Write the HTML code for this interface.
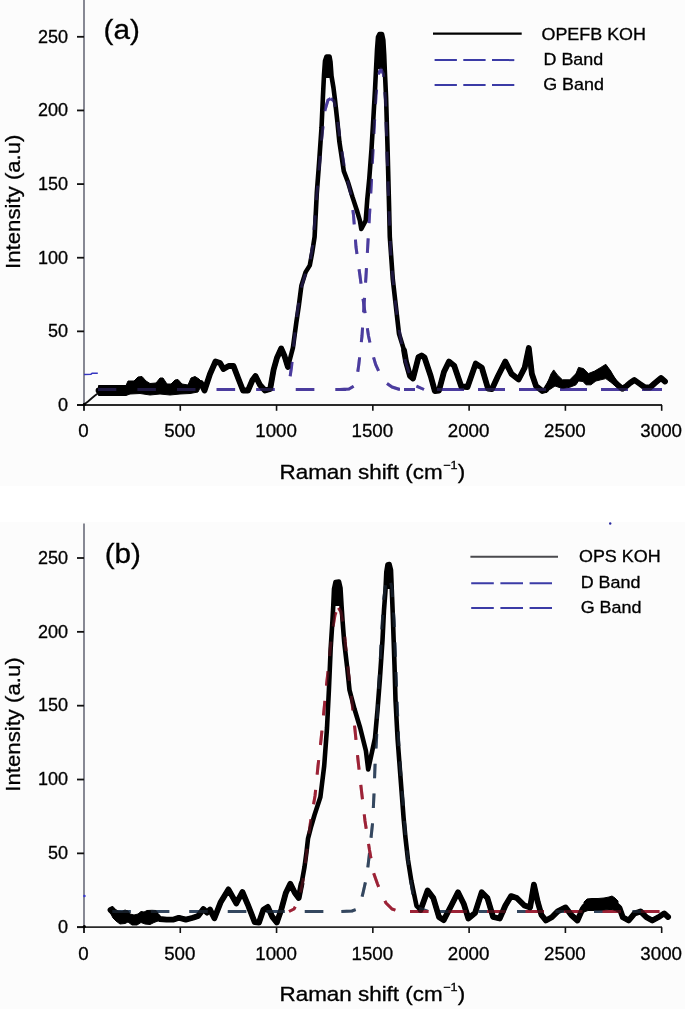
<!DOCTYPE html>
<html><head><meta charset="utf-8"><title>Raman spectra</title>
<style>
html,body{margin:0;padding:0;background:#fff;overflow:hidden;}
svg{display:block;}
text{font-family:'Liberation Sans', Arial, Helvetica, sans-serif;fill:#000;stroke:#000;stroke-width:0.3px;}
</style></head>
<body>
<svg width="685" height="1009" viewBox="0 0 685 1009">
<rect x="0" y="0" width="685" height="486" fill="#fcfcfc"/>
<rect x="0" y="522" width="685" height="487" fill="#fcfcfc"/>
<line x1="84" y1="0.0" x2="84" y2="410.8" stroke="#7a7c88" stroke-width="1.8"/>
<line x1="77" y1="405.0" x2="662" y2="405.0" stroke="#2a2a2a" stroke-width="1.8"/>
<line x1="77" y1="405.00" x2="84" y2="405.00" stroke="#111" stroke-width="1.8"/>
<line x1="77" y1="331.36" x2="84" y2="331.36" stroke="#111" stroke-width="1.8"/>
<line x1="77" y1="257.72" x2="84" y2="257.72" stroke="#111" stroke-width="1.8"/>
<line x1="77" y1="184.08" x2="84" y2="184.08" stroke="#111" stroke-width="1.8"/>
<line x1="77" y1="110.44" x2="84" y2="110.44" stroke="#111" stroke-width="1.8"/>
<line x1="77" y1="36.80" x2="84" y2="36.80" stroke="#111" stroke-width="1.8"/>
<line x1="84.00" y1="405.0" x2="84.00" y2="410.8" stroke="#111" stroke-width="1.6"/>
<line x1="180.28" y1="405.0" x2="180.28" y2="410.8" stroke="#111" stroke-width="1.6"/>
<line x1="276.56" y1="405.0" x2="276.56" y2="410.8" stroke="#111" stroke-width="1.6"/>
<line x1="372.84" y1="405.0" x2="372.84" y2="410.8" stroke="#111" stroke-width="1.6"/>
<line x1="469.12" y1="405.0" x2="469.12" y2="410.8" stroke="#111" stroke-width="1.6"/>
<line x1="565.40" y1="405.0" x2="565.40" y2="410.8" stroke="#111" stroke-width="1.6"/>
<line x1="661.68" y1="405.0" x2="661.68" y2="410.8" stroke="#111" stroke-width="1.6"/>
<line x1="84" y1="523.6" x2="84" y2="933.0" stroke="#7a7c88" stroke-width="1.8"/>
<line x1="77" y1="927.2" x2="662" y2="927.2" stroke="#2a2a2a" stroke-width="1.8"/>
<line x1="77" y1="927.20" x2="84" y2="927.20" stroke="#111" stroke-width="1.8"/>
<line x1="77" y1="853.36" x2="84" y2="853.36" stroke="#111" stroke-width="1.8"/>
<line x1="77" y1="779.52" x2="84" y2="779.52" stroke="#111" stroke-width="1.8"/>
<line x1="77" y1="705.68" x2="84" y2="705.68" stroke="#111" stroke-width="1.8"/>
<line x1="77" y1="631.84" x2="84" y2="631.84" stroke="#111" stroke-width="1.8"/>
<line x1="77" y1="558.00" x2="84" y2="558.00" stroke="#111" stroke-width="1.8"/>
<line x1="84.00" y1="927.2" x2="84.00" y2="933.0" stroke="#111" stroke-width="1.6"/>
<line x1="180.28" y1="927.2" x2="180.28" y2="933.0" stroke="#111" stroke-width="1.6"/>
<line x1="276.56" y1="927.2" x2="276.56" y2="933.0" stroke="#111" stroke-width="1.6"/>
<line x1="372.84" y1="927.2" x2="372.84" y2="933.0" stroke="#111" stroke-width="1.6"/>
<line x1="469.12" y1="927.2" x2="469.12" y2="933.0" stroke="#111" stroke-width="1.6"/>
<line x1="565.40" y1="927.2" x2="565.40" y2="933.0" stroke="#111" stroke-width="1.6"/>
<line x1="661.68" y1="927.2" x2="661.68" y2="933.0" stroke="#111" stroke-width="1.6"/>
<text transform="matrix(1.0000,0,0,1,68.00,410.80)" font-size="18.00" text-anchor="end">0</text>
<text transform="matrix(1.0000,0,0,1,68.00,337.16)" font-size="18.00" text-anchor="end">50</text>
<text transform="matrix(1.0000,0,0,1,68.00,263.52)" font-size="18.00" text-anchor="end">100</text>
<text transform="matrix(1.0000,0,0,1,68.00,189.88)" font-size="18.00" text-anchor="end">150</text>
<text transform="matrix(1.0000,0,0,1,68.00,116.24)" font-size="18.00" text-anchor="end">200</text>
<text transform="matrix(1.0000,0,0,1,68.00,42.60)" font-size="18.00" text-anchor="end">250</text>
<text transform="matrix(1.0400,0,0,1,83.50,436.50)" font-size="18.00" text-anchor="middle">0</text>
<text transform="matrix(1.0400,0,0,1,179.78,436.50)" font-size="18.00" text-anchor="middle">500</text>
<text transform="matrix(1.0400,0,0,1,276.06,436.50)" font-size="18.00" text-anchor="middle">1000</text>
<text transform="matrix(1.0400,0,0,1,372.34,436.50)" font-size="18.00" text-anchor="middle">1500</text>
<text transform="matrix(1.0400,0,0,1,468.62,436.50)" font-size="18.00" text-anchor="middle">2000</text>
<text transform="matrix(1.0400,0,0,1,564.90,436.50)" font-size="18.00" text-anchor="middle">2500</text>
<text transform="matrix(1.0400,0,0,1,661.18,436.50)" font-size="18.00" text-anchor="middle">3000</text>
<text transform="matrix(1.1500,0,0,1,279.50,479.00)" font-size="19.50">Raman shift (cm<tspan font-size="11" dx="0.5" dy="-10">&#8722;1</tspan><tspan dy="10">)</tspan></text>
<text transform="matrix(0,-1.1100,1,0,20.20,201.70)" font-size="20.00" text-anchor="middle">Intensity (a.u)</text>
<text transform="matrix(1.0000,0,0,1,68.00,933.00)" font-size="18.00" text-anchor="end">0</text>
<text transform="matrix(1.0000,0,0,1,68.00,859.16)" font-size="18.00" text-anchor="end">50</text>
<text transform="matrix(1.0000,0,0,1,68.00,785.32)" font-size="18.00" text-anchor="end">100</text>
<text transform="matrix(1.0000,0,0,1,68.00,711.48)" font-size="18.00" text-anchor="end">150</text>
<text transform="matrix(1.0000,0,0,1,68.00,637.64)" font-size="18.00" text-anchor="end">200</text>
<text transform="matrix(1.0000,0,0,1,68.00,563.80)" font-size="18.00" text-anchor="end">250</text>
<text transform="matrix(1.0400,0,0,1,83.50,959.50)" font-size="18.00" text-anchor="middle">0</text>
<text transform="matrix(1.0400,0,0,1,179.78,959.50)" font-size="18.00" text-anchor="middle">500</text>
<text transform="matrix(1.0400,0,0,1,276.06,959.50)" font-size="18.00" text-anchor="middle">1000</text>
<text transform="matrix(1.0400,0,0,1,372.34,959.50)" font-size="18.00" text-anchor="middle">1500</text>
<text transform="matrix(1.0400,0,0,1,468.62,959.50)" font-size="18.00" text-anchor="middle">2000</text>
<text transform="matrix(1.0400,0,0,1,564.90,959.50)" font-size="18.00" text-anchor="middle">2500</text>
<text transform="matrix(1.0400,0,0,1,661.18,959.50)" font-size="18.00" text-anchor="middle">3000</text>
<text transform="matrix(1.1500,0,0,1,279.50,1001.20)" font-size="19.50">Raman shift (cm<tspan font-size="11" dx="0.5" dy="-10">&#8722;1</tspan><tspan dy="10">)</tspan></text>
<text transform="matrix(0,-1.1100,1,0,20.20,724.50)" font-size="20.00" text-anchor="middle">Intensity (a.u)</text>
<line x1="433" y1="33.6" x2="521.7" y2="33.6" stroke="#000" stroke-width="2.2"/>
<line x1="434.6" y1="60.1" x2="515" y2="60.1" stroke="#3b3ba6" stroke-width="2" stroke-dasharray="22.3 6.4"/>
<line x1="434.6" y1="85.0" x2="515" y2="85.0" stroke="#3b3ba6" stroke-width="2" stroke-dasharray="22.3 6.4"/>
<text transform="matrix(1.1200,0,0,1,541.50,39.60)" font-size="16.00">OPEFB KOH</text>
<text transform="matrix(1.1200,0,0,1,543.50,65.00)" font-size="16.00">D Band</text>
<text transform="matrix(1.1200,0,0,1,543.20,90.40)" font-size="16.00">G Band</text>
<text transform="matrix(1.0500,0,0,1,103.50,38.50)" font-size="28.30">(a)</text>
<line x1="470.4" y1="556.7" x2="558" y2="556.7" stroke="#4a4a4e" stroke-width="2"/>
<line x1="471.2" y1="583.2" x2="552" y2="583.2" stroke="#3b3ba6" stroke-width="2" stroke-dasharray="22.6 6.6"/>
<line x1="471.2" y1="608.1" x2="552" y2="608.1" stroke="#3b3ba6" stroke-width="2" stroke-dasharray="22.6 6.6"/>
<text transform="matrix(1.1200,0,0,1,579.00,562.40)" font-size="16.00">OPS KOH</text>
<text transform="matrix(1.1200,0,0,1,580.70,587.50)" font-size="16.00">D Band</text>
<text transform="matrix(1.1200,0,0,1,580.70,612.70)" font-size="16.00">G Band</text>
<text transform="matrix(1.0500,0,0,1,104.70,563.00)" font-size="28.30">(b)</text>
<line x1="98.0" y1="389.5" x2="346.0" y2="389.5" stroke="#4b3c9e" stroke-width="3.0" stroke-dasharray="18.5 21.1" stroke-dashoffset="0.20"/>
<polyline points="284.0,389.5 287.0,387.5 289.5,381.0 291.5,367.0 294.0,342.0 297.5,311.0 301.0,288.0 305.5,274.0 310.0,262.0 313.0,244.0 316.0,205.0 319.0,170.0 322.0,135.0 325.0,110.0 328.0,100.0 331.0,98.5" fill="none" stroke="#4b3c9e" stroke-width="3.0" stroke-dasharray="14.5 15.3" stroke-dashoffset="14.5" stroke-linejoin="round"/>
<polyline points="331.0,98.5 334.0,101.0 337.0,115.0 340.0,140.0 344.0,165.0 348.0,182.0 351.0,195.0 353.5,215.0 356.0,247.0 360.0,276.0 364.0,306.0 368.5,336.0 372.0,352.0 375.7,364.6 380.0,374.0 385.0,382.0 392.0,387.0 399.0,389.3 405.0,389.5" fill="none" stroke="#4b3c9e" stroke-width="3.0" stroke-dasharray="14.5 15.3" stroke-dashoffset="4.6" stroke-linejoin="round"/>
<polyline points="340.0,389.5 349.0,389.0 354.0,386.0 357.0,377.0 358.8,364.6 362.0,336.0 364.0,306.0 366.0,276.0 367.7,247.0 369.5,215.0 371.5,180.0 373.5,140.0 376.0,95.0 378.5,74.0 381.0,69.0 383.5,74.0 385.5,100.0 387.0,150.0 389.0,210.0 391.0,260.0 395.0,300.0 400.0,335.0 405.0,360.0 410.0,376.0 416.0,386.0 424.0,389.5" fill="none" stroke="#4b3c9e" stroke-width="3.0" stroke-dasharray="14.5 15.3" stroke-dashoffset="0.1" stroke-linejoin="round"/>
<line x1="404.0" y1="389.5" x2="662.0" y2="389.5" stroke="#4b3c9e" stroke-width="3.0" stroke-dasharray="19.0 22.0" stroke-dashoffset="8.00"/>
<line x1="424.0" y1="389.5" x2="662.0" y2="389.5" stroke="#4b3c9e" stroke-width="3.0" stroke-dasharray="19.0 22.0" stroke-dashoffset="20.00"/>
<line x1="111.0" y1="911.5" x2="341.4" y2="911.5" stroke="#34475f" stroke-width="3.0" stroke-dasharray="18.5 20.0" stroke-dashoffset="37.20"/>
<polyline points="341.4,911.5 352.0,911.0 357.5,909.0 360.5,903.0 363.0,893.0 365.5,882.0 367.5,870.0 369.3,855.0 371.0,838.0 372.6,822.8 374.0,794.0 375.0,766.0 376.5,740.0 378.0,700.0 380.0,665.0 381.8,630.0 383.7,600.0 386.0,582.0 389.0,577.0 392.0,588.0 394.0,620.0 395.5,660.0 397.0,700.0 399.0,750.0 402.0,790.0 405.5,835.0 409.0,870.0 413.0,895.0 419.0,908.0 428.0,911.5" fill="none" stroke="#34475f" stroke-width="3.0" stroke-dasharray="14.5 15.3" stroke-dashoffset="0.0" stroke-linejoin="round"/>
<line x1="428.0" y1="911.5" x2="668.0" y2="911.5" stroke="#34475f" stroke-width="3.0" stroke-dasharray="18.5 20.0" stroke-dashoffset="26.50"/>
<polyline points="289.0,911.5 294.0,909.0 297.5,903.0 300.5,893.0 303.0,880.0 305.5,862.0 308.0,842.0 310.5,822.0 315.0,796.0 318.0,766.0 321.0,740.0 323.8,712.0 326.5,685.0 329.3,660.0 331.5,636.0 335.0,615.0 338.0,607.0" fill="none" stroke="#9c2236" stroke-width="3.0" stroke-dasharray="14.5 15.3" stroke-dashoffset="6.4" stroke-linejoin="round"/>
<polyline points="338.0,607.0 341.0,612.0 344.0,630.0 347.0,660.0 349.5,682.0 351.7,699.5 355.0,730.0 358.0,760.0 361.5,791.0 365.0,821.0 369.5,850.0 373.6,873.0 377.5,884.0 382.0,895.0 386.0,903.0 392.0,909.0 400.0,911.5" fill="none" stroke="#9c2236" stroke-width="3.0" stroke-dasharray="14.5 15.3" stroke-dashoffset="28.8" stroke-linejoin="round"/>
<line x1="400.0" y1="911.5" x2="668.0" y2="911.5" stroke="#9c2236" stroke-width="3.0" stroke-dasharray="18.5 20.0" stroke-dashoffset="28.50"/>
<polyline points="84,374.6 91,374.2 92.2,373.2 97.8,373.2" fill="none" stroke="#3636c0" stroke-width="1.5"/>
<polyline points="84,404.5 88,401.5 92,398 95,395.5 98.5,393" fill="none" stroke="#111" stroke-width="1.8"/>
<polyline points="98.5,390.5 126.0,390.5 128.0,387.9 130.0,387.5 134.0,387.4 138.0,385.3 140.0,385.1 142.0,385.1 146.0,387.7 150.0,389.2 156.0,388.7 160.0,386.0 163.0,386.1 167.0,389.4 170.0,389.5 171.0,389.4 175.0,387.2 178.0,386.9 180.0,387.9 182.0,388.9 188.0,389.3 190.0,386.9 191.0,385.7 195.0,384.5 198.0,385.2 199.0,384.5 201.0,383.5 201.0,383.0 204.5,390.5 210.0,374.0 215.5,361.5 220.0,363.0 223.5,369.0 228.7,366.0 233.5,366.0 238.3,378.5 243.0,390.5 248.0,390.5 252.5,380.0 255.5,376.0 260.0,385.0 265.0,390.5 270.2,389.0 273.6,369.8 276.9,358.0 281.2,348.5 284.5,356.0 287.9,367.0 292.9,347.9 296.3,322.6 298.8,305.8 301.4,285.6 305.6,272.1 309.8,265.4 312.3,251.9 314.6,236.8 316.8,193.0 319.0,163.8 321.5,128.0 323.0,95.0 324.0,75.0 325.0,61.0 326.5,56.5 329.5,56.5 330.5,62.0 331.5,76.0 333.5,88.0 335.0,100.0 337.2,120.0 339.4,141.9 343.8,171.1 348.2,182.8 352.6,197.4 356.9,210.5 359.9,220.7 361.3,229.0 365.7,220.7 367.2,200.3 369.3,178.4 371.5,149.2 373.7,112.6 375.0,90.0 376.0,70.0 377.0,50.0 378.0,37.0 379.5,34.0 382.0,34.0 383.3,40.0 384.2,55.0 384.8,70.0 386.1,98.0 387.6,150.0 389.1,207.6 389.8,236.8 392.8,279.3 399.0,333.8 404.1,350.4 406.0,361.6 410.0,376.0 413.0,378.5 418.5,357.0 421.5,355.5 424.5,357.5 430.7,376.0 434.8,391.0 439.0,390.5 444.0,371.8 449.0,361.6 454.2,365.7 461.3,386.5 467.5,387.0 475.7,363.6 481.8,367.7 488.0,388.5 492.0,389.0 498.0,376.0 505.3,361.6 511.5,373.9 518.6,379.5 524.7,367.7 528.8,348.0 531.9,374.0 536.0,386.0 542.3,391.0 546.0,390.0 546.0,389.5 547.5,386.8 548.7,385.0 551.0,381.3 553.7,378.4 555.0,378.8 557.4,380.9 562.4,384.1 569.8,383.6 576.0,379.2 578.5,374.2 583.0,375.0 583.5,375.3 586.0,378.0 588.4,379.2 590.9,378.7 594.6,376.5 595.9,375.7 600.8,373.6 605.8,371.5 610.8,376.7 615.7,383.0 617.0,384.2 621.9,388.5 624.0,388.0 626.5,386.0 630.0,383.0 634.4,380.0 640.0,384.0 645.0,387.5 650.0,387.5 655.0,383.0 661.0,378.0 665.0,381.5" fill="none" stroke="#000" stroke-width="4.6" stroke-linejoin="round" stroke-linecap="round"/>
<polyline points="110.5,910.0 113.0,912.2 115.0,914.5 116.0,915.3 118.0,916.8 120.0,917.6 122.0,917.6 125.0,916.8 128.0,916.5 130.0,918.8 132.0,919.8 134.0,920.0 137.0,919.6 138.0,919.2 141.0,917.0 144.0,917.8 145.0,917.8 147.0,917.4 150.0,917.4 152.0,916.9 154.0,916.5 156.0,916.1 158.0,917.0 159.6,919.0 166.6,919.6 173.6,919.6 178.8,917.8 185.8,919.6 192.9,917.8 198.1,916.0 203.4,909.0 206.9,912.6 210.0,909.6 214.4,918.3 220.5,902.6 228.4,889.4 236.3,903.4 242.4,892.0 247.7,904.3 254.7,922.2 259.0,922.5 263.4,909.6 267.8,906.9 272.2,916.6 276.8,922.5 281.3,909.6 285.8,893.0 290.3,883.8 294.8,892.8 298.7,898.0 301.5,883.8 304.5,867.0 306.5,852.0 308.0,838.7 311.3,826.0 314.5,815.0 320.4,797.0 324.2,765.9 327.0,728.0 328.9,690.0 330.7,648.0 332.5,620.0 333.3,605.0 334.0,589.0 335.5,582.0 339.0,581.5 340.5,588.0 341.5,605.0 342.5,620.0 344.2,642.0 347.3,668.6 349.5,690.0 354.5,709.0 360.2,728.0 365.9,750.7 368.2,769.5 372.0,752.0 375.0,738.0 377.5,710.0 379.8,680.0 382.5,640.0 384.0,610.0 385.5,590.0 386.3,572.0 387.5,564.5 389.5,564.0 391.0,570.0 391.8,590.0 392.6,610.0 393.3,630.0 394.5,665.0 395.5,700.0 397.6,739.0 400.6,778.6 403.6,818.0 405.5,838.0 408.0,860.0 411.4,881.3 416.5,905.8 420.6,910.0 427.6,890.4 433.3,898.0 439.0,917.0 443.7,920.2 451.3,905.5 458.0,892.3 463.7,903.7 468.4,918.5 475.0,913.1 481.7,892.3 487.4,898.0 493.1,917.0 499.7,918.5 505.4,905.5 511.1,896.1 516.8,898.0 524.4,905.5 530.1,907.4 533.9,884.7 537.7,901.8 541.5,915.0 545.9,920.5 551.8,917.3 557.7,911.4 565.6,907.4 571.5,915.3 577.4,920.5 582.4,909.4 584.0,907.0 587.0,904.9 588.0,904.7 592.0,904.5 598.0,904.5 604.0,904.0 609.0,903.2 612.0,902.8 615.0,904.2 618.0,906.5 619.5,908.0 622.8,917.3 628.7,920.5 634.6,913.4 640.5,911.4 646.4,917.3 652.3,920.5 658.3,917.3 664.2,913.4 668.1,917.0" fill="none" stroke="#000" stroke-width="4.6" stroke-linejoin="round" stroke-linecap="round"/>
<polyline points="98.5,390.5 126.0,390.5 128.0,387.9 130.0,387.5 134.0,387.4 138.0,385.3 140.0,385.1 142.0,385.1 146.0,387.7 150.0,389.2 156.0,388.7 160.0,386.0 163.0,386.1 167.0,389.4 170.0,389.5 171.0,389.4 175.0,387.2 178.0,386.9 180.0,387.9 182.0,388.9 188.0,389.3 190.0,386.9 191.0,385.7 195.0,384.5 198.0,385.2 199.0,384.5 201.0,383.5 201.0,383.0 204.5,390.5 210.0,374.0 215.5,361.5 220.0,363.0 223.5,369.0 228.7,366.0 233.5,366.0 238.3,378.5 243.0,390.5 248.0,390.5 252.5,380.0 255.5,376.0 260.0,385.0 265.0,390.5 270.2,389.0 273.6,369.8 276.9,358.0 281.2,348.5 284.5,356.0 287.9,367.0" fill="none" stroke="#000" stroke-width="5.8" stroke-linejoin="round" stroke-linecap="round"/>
<polyline points="404.1,350.4 406.0,361.6 410.0,376.0 413.0,378.5 418.5,357.0 421.5,355.5 424.5,357.5 430.7,376.0 434.8,391.0 439.0,390.5 444.0,371.8 449.0,361.6 454.2,365.7 461.3,386.5 467.5,387.0 475.7,363.6 481.8,367.7 488.0,388.5 492.0,389.0 498.0,376.0 505.3,361.6 511.5,373.9 518.6,379.5 524.7,367.7 528.8,348.0 531.9,374.0 536.0,386.0 542.3,391.0 546.0,390.0 546.0,389.5 547.5,386.8 548.7,385.0 551.0,381.3 553.7,378.4 555.0,378.8 557.4,380.9 562.4,384.1 569.8,383.6 576.0,379.2 578.5,374.2 583.0,375.0 583.5,375.3 586.0,378.0 588.4,379.2 590.9,378.7 594.6,376.5 595.9,375.7 600.8,373.6 605.8,371.5 610.8,376.7 615.7,383.0 617.0,384.2 621.9,388.5 624.0,388.0 626.5,386.0 630.0,383.0 634.4,380.0 640.0,384.0 645.0,387.5 650.0,387.5 655.0,383.0 661.0,378.0 665.0,381.5" fill="none" stroke="#000" stroke-width="5.8" stroke-linejoin="round" stroke-linecap="round"/>
<polyline points="110.5,910.0 113.0,912.2 115.0,914.5 116.0,915.3 118.0,916.8 120.0,917.6 122.0,917.6 125.0,916.8 128.0,916.5 130.0,918.8 132.0,919.8 134.0,920.0 137.0,919.6 138.0,919.2 141.0,917.0 144.0,917.8 145.0,917.8 147.0,917.4 150.0,917.4 152.0,916.9 154.0,916.5 156.0,916.1 158.0,917.0 159.6,919.0 166.6,919.6 173.6,919.6 178.8,917.8 185.8,919.6 192.9,917.8 198.1,916.0 203.4,909.0 206.9,912.6 210.0,909.6 214.4,918.3 220.5,902.6 228.4,889.4 236.3,903.4 242.4,892.0 247.7,904.3 254.7,922.2 259.0,922.5 263.4,909.6 267.8,906.9 272.2,916.6 276.8,922.5 281.3,909.6 285.8,893.0 290.3,883.8 294.8,892.8 298.7,898.0 301.5,883.8" fill="none" stroke="#000" stroke-width="5.8" stroke-linejoin="round" stroke-linecap="round"/>
<polyline points="420.6,910.0 427.6,890.4 433.3,898.0 439.0,917.0 443.7,920.2 451.3,905.5 458.0,892.3 463.7,903.7 468.4,918.5 475.0,913.1 481.7,892.3 487.4,898.0 493.1,917.0 499.7,918.5 505.4,905.5 511.1,896.1 516.8,898.0 524.4,905.5 530.1,907.4 533.9,884.7 537.7,901.8 541.5,915.0 545.9,920.5 551.8,917.3 557.7,911.4 565.6,907.4 571.5,915.3 577.4,920.5 582.4,909.4 584.0,907.0 587.0,904.9 588.0,904.7 592.0,904.5 598.0,904.5 604.0,904.0 609.0,903.2 612.0,902.8 615.0,904.2 618.0,906.5 619.5,908.0 622.8,917.3 628.7,920.5 634.6,913.4 640.5,911.4 646.4,917.3 652.3,920.5 658.3,917.3 664.2,913.4 668.1,917.0" fill="none" stroke="#000" stroke-width="5.8" stroke-linejoin="round" stroke-linecap="round"/>
<polygon points="326.0,57.5 329.5,57.5 331.0,64.0 331.6,78.0 324.2,78.0 324.8,64.0" fill="#000"/>
<polygon points="378.5,35.5 382.0,35.5 383.5,45.0 384.5,69.0 376.3,69.0 377.0,45.0" fill="#000"/>
<polygon points="335.8,583.0 339.0,583.0 340.2,590.0 341.3,606.0 333.5,606.0 334.3,590.0" fill="#000"/>
<polygon points="387.6,566.0 389.6,566.0 391.0,572.0 391.7,589.0 385.8,589.0 386.5,572.0" fill="#000"/>
<polygon points="98.5,385.5 126.0,385.5 128.0,381.0 134.0,381.0 138.0,377.0 142.0,376.5 146.0,381.0 150.0,383.5 156.0,383.0 160.0,378.0 163.0,378.0 167.0,384.0 171.0,384.0 175.0,380.0 178.0,379.5 182.0,384.0 188.0,385.0 191.0,378.0 195.0,376.5 199.0,379.0 201.0,381.0 201.0,386.0 198.0,392.0 190.0,393.5 180.0,394.0 170.0,395.0 160.0,394.0 150.0,395.0 140.0,393.5 130.0,394.0 126.0,395.5 98.5,395.5" fill="#000" stroke="#000" stroke-width="1" stroke-linejoin="round"/>
<polygon points="546.0,386.0 548.7,379.8 551.0,374.0 553.7,369.9 557.4,374.9 562.4,379.8 569.8,379.8 576.0,373.6 578.5,367.4 583.5,368.6 588.4,373.6 594.6,371.1 600.8,367.4 605.8,364.3 610.8,371.1 615.7,379.8 621.9,386.0 624.0,385.0 624.0,391.0 621.9,391.0 617.0,387.3 610.8,382.3 605.8,378.6 600.8,379.8 595.9,381.0 590.9,384.8 586.0,384.8 583.0,381.5 578.5,381.0 576.0,384.8 569.8,387.3 562.4,388.5 555.0,386.0 547.5,391.0 546.0,393.0" fill="#000" stroke="#000" stroke-width="1" stroke-linejoin="round"/>
<polygon points="110.5,907.0 113.0,906.5 115.0,909.0 118.0,911.0 122.0,911.5 125.0,910.0 128.0,911.0 130.0,914.0 134.0,915.0 138.0,914.0 141.0,911.5 144.0,912.0 147.0,910.5 152.0,910.3 156.0,910.5 158.0,913.0 158.0,921.0 154.0,922.5 150.0,924.5 145.0,924.0 141.0,922.5 137.0,925.0 132.0,925.0 128.0,922.0 125.0,923.5 120.0,924.0 116.0,921.0 113.0,918.0 110.5,913.0" fill="#000" stroke="#000" stroke-width="1" stroke-linejoin="round"/>
<polygon points="584.0,902.0 587.0,899.0 592.0,898.5 598.0,898.5 604.0,898.0 609.0,897.0 612.0,896.0 615.0,898.0 618.0,901.0 618.0,912.0 615.0,910.5 612.0,909.5 609.0,909.5 604.0,910.0 598.0,910.5 592.0,910.5 588.0,910.5 584.0,912.0" fill="#000" stroke="#000" stroke-width="1" stroke-linejoin="round"/>
<circle cx="84.4" cy="896" r="1.3" fill="#3a3ad0"/>
<circle cx="84.3" cy="926.6" r="1.6" fill="#000"/>
<circle cx="84.3" cy="404.4" r="1.6" fill="#000"/>
<circle cx="610.2" cy="523.5" r="1.2" fill="#2a2aa0"/>
<g opacity="0.4">
<line x1="98.0" y1="389.5" x2="346.0" y2="389.5" stroke="#4b3c9e" stroke-width="3.0" stroke-dasharray="18.5 21.1" stroke-dashoffset="0.20"/>
<polyline points="284.0,389.5 287.0,387.5 289.5,381.0 291.5,367.0 294.0,342.0 297.5,311.0 301.0,288.0 305.5,274.0 310.0,262.0 313.0,244.0 316.0,205.0 319.0,170.0 322.0,135.0 325.0,110.0 328.0,100.0 331.0,98.5" fill="none" stroke="#4b3c9e" stroke-width="3.0" stroke-dasharray="14.5 15.3" stroke-dashoffset="14.5" stroke-linejoin="round"/>
<polyline points="331.0,98.5 334.0,101.0 337.0,115.0 340.0,140.0 344.0,165.0 348.0,182.0 351.0,195.0 353.5,215.0 356.0,247.0 360.0,276.0 364.0,306.0 368.5,336.0 372.0,352.0 375.7,364.6 380.0,374.0 385.0,382.0 392.0,387.0 399.0,389.3 405.0,389.5" fill="none" stroke="#4b3c9e" stroke-width="3.0" stroke-dasharray="14.5 15.3" stroke-dashoffset="4.6" stroke-linejoin="round"/>
<polyline points="340.0,389.5 349.0,389.0 354.0,386.0 357.0,377.0 358.8,364.6 362.0,336.0 364.0,306.0 366.0,276.0 367.7,247.0 369.5,215.0 371.5,180.0 373.5,140.0 376.0,95.0 378.5,74.0 381.0,69.0 383.5,74.0 385.5,100.0 387.0,150.0 389.0,210.0 391.0,260.0 395.0,300.0 400.0,335.0 405.0,360.0 410.0,376.0 416.0,386.0 424.0,389.5" fill="none" stroke="#4b3c9e" stroke-width="3.0" stroke-dasharray="14.5 15.3" stroke-dashoffset="0.1" stroke-linejoin="round"/>
<line x1="404.0" y1="389.5" x2="662.0" y2="389.5" stroke="#4b3c9e" stroke-width="3.0" stroke-dasharray="19.0 22.0" stroke-dashoffset="8.00"/>
<line x1="424.0" y1="389.5" x2="662.0" y2="389.5" stroke="#4b3c9e" stroke-width="3.0" stroke-dasharray="19.0 22.0" stroke-dashoffset="20.00"/>
<line x1="111.0" y1="911.5" x2="341.4" y2="911.5" stroke="#34475f" stroke-width="3.0" stroke-dasharray="18.5 20.0" stroke-dashoffset="37.20"/>
<polyline points="341.4,911.5 352.0,911.0 357.5,909.0 360.5,903.0 363.0,893.0 365.5,882.0 367.5,870.0 369.3,855.0 371.0,838.0 372.6,822.8 374.0,794.0 375.0,766.0 376.5,740.0 378.0,700.0 380.0,665.0 381.8,630.0 383.7,600.0 386.0,582.0 389.0,577.0 392.0,588.0 394.0,620.0 395.5,660.0 397.0,700.0 399.0,750.0 402.0,790.0 405.5,835.0 409.0,870.0 413.0,895.0 419.0,908.0 428.0,911.5" fill="none" stroke="#34475f" stroke-width="3.0" stroke-dasharray="14.5 15.3" stroke-dashoffset="0.0" stroke-linejoin="round"/>
<line x1="428.0" y1="911.5" x2="668.0" y2="911.5" stroke="#34475f" stroke-width="3.0" stroke-dasharray="18.5 20.0" stroke-dashoffset="26.50"/>
<polyline points="289.0,911.5 294.0,909.0 297.5,903.0 300.5,893.0 303.0,880.0 305.5,862.0 308.0,842.0 310.5,822.0 315.0,796.0 318.0,766.0 321.0,740.0 323.8,712.0 326.5,685.0 329.3,660.0 331.5,636.0 335.0,615.0 338.0,607.0" fill="none" stroke="#9c2236" stroke-width="3.0" stroke-dasharray="14.5 15.3" stroke-dashoffset="6.4" stroke-linejoin="round"/>
<polyline points="338.0,607.0 341.0,612.0 344.0,630.0 347.0,660.0 349.5,682.0 351.7,699.5 355.0,730.0 358.0,760.0 361.5,791.0 365.0,821.0 369.5,850.0 373.6,873.0 377.5,884.0 382.0,895.0 386.0,903.0 392.0,909.0 400.0,911.5" fill="none" stroke="#9c2236" stroke-width="3.0" stroke-dasharray="14.5 15.3" stroke-dashoffset="28.8" stroke-linejoin="round"/>
<line x1="400.0" y1="911.5" x2="668.0" y2="911.5" stroke="#9c2236" stroke-width="3.0" stroke-dasharray="18.5 20.0" stroke-dashoffset="28.50"/>
</g>
</svg>
</body></html>
